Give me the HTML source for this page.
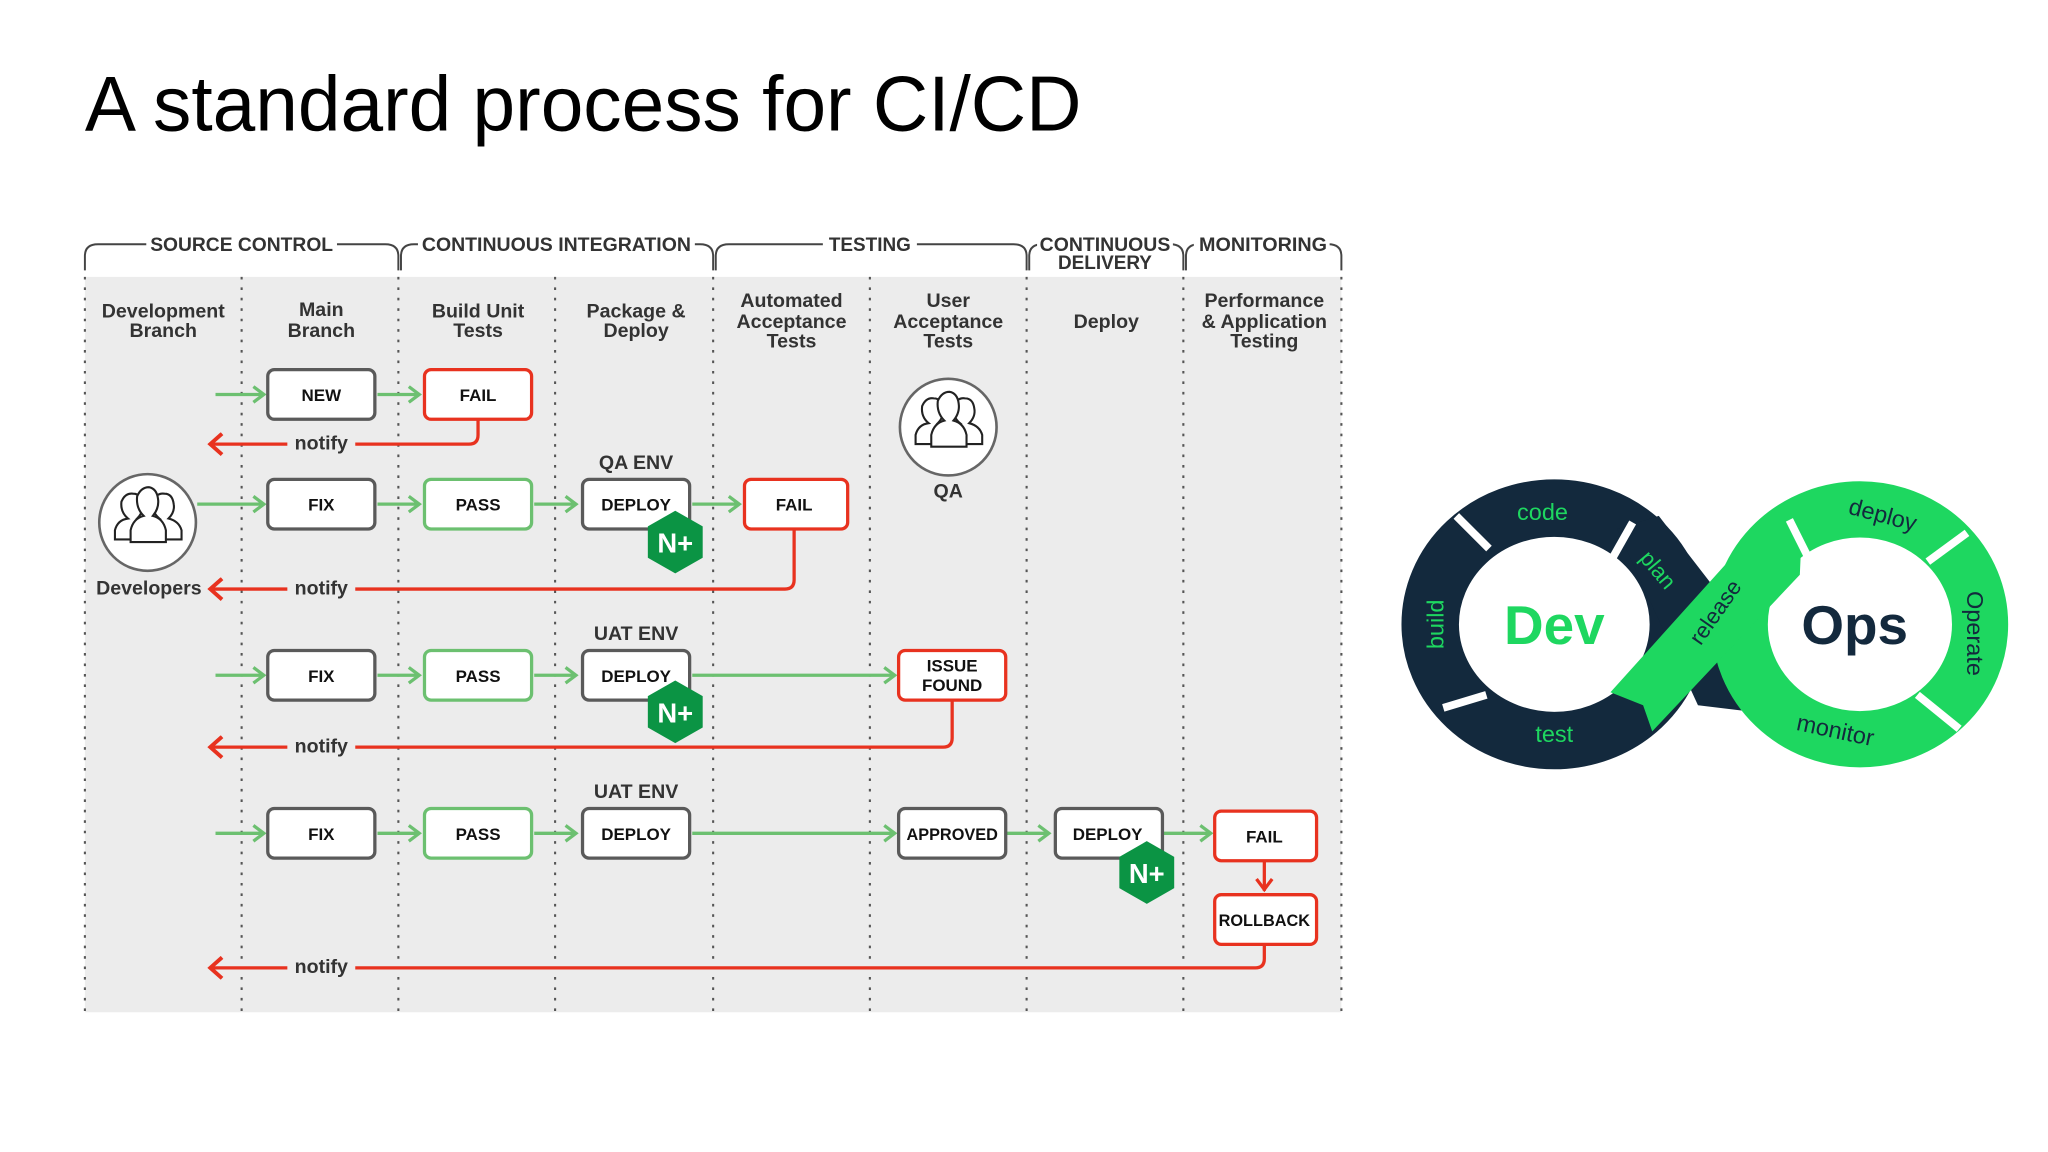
<!DOCTYPE html>
<html><head><meta charset="utf-8"><style>
html,body{margin:0;padding:0;background:#fff;}
svg{display:block}
.h{font-family:"Liberation Sans Narrow","Liberation Sans",sans-serif;font-weight:bold;fill:#333;text-anchor:middle}
.b{font-family:"Liberation Sans Narrow","Liberation Sans",sans-serif;font-weight:bold;fill:#111;text-anchor:middle;font-size:13px}
.lg{font-family:"Liberation Sans",sans-serif;text-anchor:middle}
</style></head><body>
<svg width="2048" height="1152" viewBox="0 0 1568 882" xmlns="http://www.w3.org/2000/svg">
<defs>
<marker id="ga" markerWidth="12" markerHeight="14" refX="10" refY="7" orient="auto" markerUnits="userSpaceOnUse"><path d="M2,1 L10,7 L2,13" fill="none" stroke="#6cc070" stroke-width="2.5"/></marker>
<marker id="ra" markerWidth="14" markerHeight="18" refX="11" refY="9" orient="auto" markerUnits="userSpaceOnUse"><path d="M2,1 L11,9 L2,17" fill="none" stroke="#e8321f" stroke-width="3"/></marker>
</defs>
<text x="65" y="100" font-family="Liberation Sans,sans-serif" font-size="60" textLength="763" lengthAdjust="spacingAndGlyphs" fill="#000">A standard process for CI/CD</text>

<rect x="65" y="212" width="962" height="563" fill="#ececec"/>
<g stroke="#555" stroke-width="1.6" stroke-dasharray="2,6">
<line x1="65" y1="212" x2="65" y2="775"/><line x1="185" y1="212" x2="185" y2="775"/><line x1="305" y1="212" x2="305" y2="775"/><line x1="425" y1="212" x2="425" y2="775"/><line x1="546" y1="212" x2="546" y2="775"/><line x1="666" y1="212" x2="666" y2="775"/><line x1="786" y1="212" x2="786" y2="775"/><line x1="906" y1="212" x2="906" y2="775"/><line x1="1027" y1="212" x2="1027" y2="775"/>
</g>
<g fill="none" stroke="#444" stroke-width="1.5">
<path d="M65,207 L65,196 Q65,187 75,187 L295,187 Q305,187 305,196 L305,207"/>
<path d="M307,207 L307,196 Q307,187 317,187 L536,187 Q546,187 546,196 L546,207"/>
<path d="M548,207 L548,196 Q548,187 558,187 L776,187 Q786,187 786,196 L786,207"/>
<path d="M788,207 L788,196 Q788,187 798,187 L896,187 Q906,187 906,196 L906,207"/>
<path d="M908,207 L908,196 Q908,187 918,187 L1017,187 Q1027,187 1027,196 L1027,207"/>
</g>
<g fill="#fff">
<rect x="112" y="178" width="146" height="18"/><rect x="320" y="178" width="212" height="18"/><rect x="630" y="178" width="72" height="18"/><rect x="794" y="178" width="104" height="32"/><rect x="914" y="178" width="104" height="18"/>
</g>
<g class="h" font-size="14.5">
<text x="185" y="192" textLength="140" lengthAdjust="spacingAndGlyphs">SOURCE CONTROL</text><text x="426" y="192" textLength="206" lengthAdjust="spacingAndGlyphs">CONTINUOUS INTEGRATION</text><text x="666" y="192">TESTING</text><text x="846" y="192" textLength="100" lengthAdjust="spacingAndGlyphs">CONTINUOUS</text><text x="846" y="206">DELIVERY</text><text x="967" y="192" textLength="98" lengthAdjust="spacingAndGlyphs">MONITORING</text>
</g>
<g class="h" font-size="15" fill="#444">
<text x="125" y="243">Development</text><text x="125" y="258">Branch</text>
<text x="246" y="242">Main</text><text x="246" y="258">Branch</text>
<text x="366" y="243">Build Unit</text><text x="366" y="258">Tests</text>
<text x="487" y="243">Package &amp;</text><text x="487" y="258">Deploy</text>
<text x="606" y="235">Automated</text><text x="606" y="251">Acceptance</text><text x="606" y="266">Tests</text>
<text x="726" y="235">User</text><text x="726" y="251">Acceptance</text><text x="726" y="266">Tests</text>
<text x="847" y="251">Deploy</text>
<text x="968" y="235">Performance</text><text x="968" y="251" textLength="96" lengthAdjust="spacingAndGlyphs">&amp; Application</text><text x="968" y="266">Testing</text>
<text x="487" y="359">QA ENV</text><text x="487" y="490">UAT ENV</text><text x="487" y="611">UAT ENV</text>
<text x="726" y="381">QA</text>
<text x="114" y="455">Developers</text>
</g>

<g stroke="#6cc070" stroke-width="2.5" marker-end="url(#ga)" fill="none">
<line x1="165" y1="302" x2="202" y2="302"/><line x1="289" y1="302" x2="321" y2="302"/>
<line x1="151" y1="386" x2="202" y2="386"/><line x1="289" y1="386" x2="321" y2="386"/><line x1="409" y1="386" x2="441" y2="386"/><line x1="530" y1="386" x2="566" y2="386"/>
<line x1="165" y1="517" x2="202" y2="517"/><line x1="289" y1="517" x2="321" y2="517"/><line x1="409" y1="517" x2="441" y2="517"/><line x1="530" y1="517" x2="685" y2="517"/>
<line x1="165" y1="638" x2="202" y2="638"/><line x1="289" y1="638" x2="321" y2="638"/><line x1="409" y1="638" x2="441" y2="638"/><line x1="530" y1="638" x2="685" y2="638"/><line x1="771" y1="638" x2="803" y2="638"/><line x1="891" y1="638" x2="927" y2="638"/>
</g>
<g stroke="#e8321f" stroke-width="2.5" fill="none">
<path d="M366,321 L366,333 Q366,340 359,340 L272,340"/><line x1="220" y1="340" x2="161" y2="340" marker-end="url(#ra)"/>
<path d="M608,405 L608,444 Q608,451 601,451 L272,451"/><line x1="220" y1="451" x2="161" y2="451" marker-end="url(#ra)"/>
<path d="M729,536 L729,565 Q729,572 722,572 L272,572"/><line x1="220" y1="572" x2="161" y2="572" marker-end="url(#ra)"/>
<path d="M968,723 L968,734 Q968,741 961,741 L272,741"/><line x1="220" y1="741" x2="161" y2="741" marker-end="url(#ra)"/>
<line x1="968" y1="659" x2="968" y2="682"/><path d="M962,673 L968,681 L974,673"/>
</g>
<g class="h" font-size="15" fill="#333">
<text x="246" y="344">notify</text><text x="246" y="455">notify</text><text x="246" y="576">notify</text><text x="246" y="745">notify</text>
</g>

<g fill="#fff" stroke-width="2.5">
<rect x="205" y="283" width="82" height="38" rx="5" stroke="#5a5a5a"/>
<rect x="325" y="283" width="82" height="38" rx="5" stroke="#e8321f"/>
<rect x="205" y="367" width="82" height="38" rx="5" stroke="#5a5a5a"/>
<rect x="325" y="367" width="82" height="38" rx="5" stroke="#6cc070"/>
<rect x="446" y="367" width="82" height="38" rx="5" stroke="#5a5a5a"/>
<rect x="570" y="367" width="79" height="38" rx="5" stroke="#e8321f"/>
<rect x="205" y="498" width="82" height="38" rx="5" stroke="#5a5a5a"/>
<rect x="325" y="498" width="82" height="38" rx="5" stroke="#6cc070"/>
<rect x="446" y="498" width="82" height="38" rx="5" stroke="#5a5a5a"/>
<rect x="688" y="498" width="82" height="38" rx="5" stroke="#e8321f"/>
<rect x="205" y="619" width="82" height="38" rx="5" stroke="#5a5a5a"/>
<rect x="325" y="619" width="82" height="38" rx="5" stroke="#6cc070"/>
<rect x="446" y="619" width="82" height="38" rx="5" stroke="#5a5a5a"/>
<rect x="688" y="619" width="82" height="38" rx="5" stroke="#5a5a5a"/>
<rect x="808" y="619" width="82" height="38" rx="5" stroke="#5a5a5a"/>
<rect x="930" y="621" width="78" height="38" rx="5" stroke="#e8321f"/>
<rect x="930" y="685" width="78" height="38" rx="5" stroke="#e8321f"/>
</g>
<g class="b">
<text x="246" y="307">NEW</text><text x="366" y="307">FAIL</text>
<text x="246" y="391">FIX</text><text x="366" y="391">PASS</text><text x="487" y="391">DEPLOY</text><text x="608" y="391">FAIL</text>
<text x="246" y="522">FIX</text><text x="366" y="522">PASS</text><text x="487" y="522">DEPLOY</text><text x="729" y="514">ISSUE</text><text x="729" y="529">FOUND</text>
<text x="246" y="643">FIX</text><text x="366" y="643">PASS</text><text x="487" y="643">DEPLOY</text><text x="729" y="643" textLength="70" lengthAdjust="spacingAndGlyphs">APPROVED</text><text x="848" y="643">DEPLOY</text><text x="968" y="645">FAIL</text><text x="968" y="709" textLength="70" lengthAdjust="spacingAndGlyphs">ROLLBACK</text>
</g>
<g fill="#0b9444">
<polygon points="517,391 538,403 538,427 517,439 496,427 496,403"/>
<polygon points="517,521 538,533 538,557 517,569 496,557 496,533"/>
<polygon points="878,644 899,656 899,680 878,692 857,680 857,656"/>
</g>
<g font-family="Liberation Sans,sans-serif" font-weight="bold" font-size="21" fill="#fff" text-anchor="middle">
<text x="517" y="423">N+</text><text x="517" y="553">N+</text><text x="878" y="676">N+</text>
</g>
<g fill="#fff" stroke="#666" stroke-width="2">
<circle cx="113" cy="400" r="37"/><circle cx="726" cy="327" r="37"/>
</g>
<g fill="none" stroke="#222" stroke-width="1.6">
<path d="M88,413 L88,406 Q90,398 98,397 Q92,392 93,384 Q96,377 102,378 Q108,378 109,386 Q110,392 105,397 Q113,399 115,406 L115,413 Z"/>
<path d="M112,413 L112,406 Q114,398 122,397 Q116,392 117,384 Q120,377 126,378 Q132,378 133,386 Q134,392 129,397 Q137,399 139,406 L139,413 Z"/>
<path d="M100,415 L100,406 Q102,397 110,395 Q104,389 105,380 Q108,373 114,373 Q120,374 121,382 Q122,389 117,395 Q125,397 127,406 L127,415 Z" fill="#fff"/>
<path d="M701,340 L701,333 Q703,325 711,324 Q705,319 706,311 Q709,304 715,305 Q721,305 722,313 Q723,319 718,324 Q726,326 728,333 L728,340 Z"/>
<path d="M725,340 L725,333 Q727,325 735,324 Q729,319 730,311 Q733,304 739,305 Q745,305 746,313 Q747,319 742,324 Q750,326 752,333 L752,340 Z"/>
<path d="M713,342 L713,333 Q715,324 723,322 Q717,316 718,307 Q721,300 727,300 Q733,301 734,309 Q735,316 730,322 Q738,324 740,333 L740,342 Z" fill="#fff"/>
</g>

<g>
<ellipse cx="1190" cy="478" rx="95" ry="89" fill="none" stroke="#13293d" stroke-width="44"/>
<polygon points="1238,405 1270,395 1355,505 1342,545 1300,540" fill="#13293d"/>
<ellipse cx="1424" cy="478" rx="92" ry="88" fill="none" stroke="#1ed760" stroke-width="43"/>
<polygon points="1233,530 1350,400 1380,395 1378,440 1265,560 1258,540" fill="#1ed760"/>
<g stroke="#fff" stroke-width="6">
<line x1="1115" y1="395" x2="1140" y2="420"/><line x1="1250" y1="400" x2="1233" y2="430"/>
<line x1="1105" y1="542" x2="1138" y2="532"/>
<line x1="1370" y1="398" x2="1386" y2="430"/><line x1="1506" y1="408" x2="1476" y2="430"/>
<line x1="1500" y1="558" x2="1468" y2="532"/>
</g>
<text x="1190" y="493" class="lg" font-weight="bold" font-size="42" fill="#1ed760">Dev</text>
<text x="1420" y="493" class="lg" font-weight="bold" font-size="42" fill="#13293d">Ops</text>
<text x="1181" y="398" class="lg" font-size="18" fill="#1ed760">code</text>
<text x="1190" y="568" class="lg" font-size="18" fill="#1ed760">test</text>
<text class="lg" font-size="18" fill="#1ed760" transform="translate(1105,478) rotate(-90)">build</text>
<text class="lg" font-size="17" fill="#1ed760" transform="translate(1265,440) rotate(50)">plan</text>
<text class="lg" font-size="17" fill="#13293d" transform="translate(1318,472) rotate(-55)">release</text>
<text class="lg" font-size="18" fill="#13293d" transform="translate(1440,400) rotate(15)">deploy</text>
<text class="lg" font-size="18" fill="#13293d" transform="translate(1506,485) rotate(90)">Operate</text>
<text class="lg" font-size="18" fill="#13293d" transform="translate(1404,565) rotate(12)">monitor</text>
</g>
</svg>
</body></html>
